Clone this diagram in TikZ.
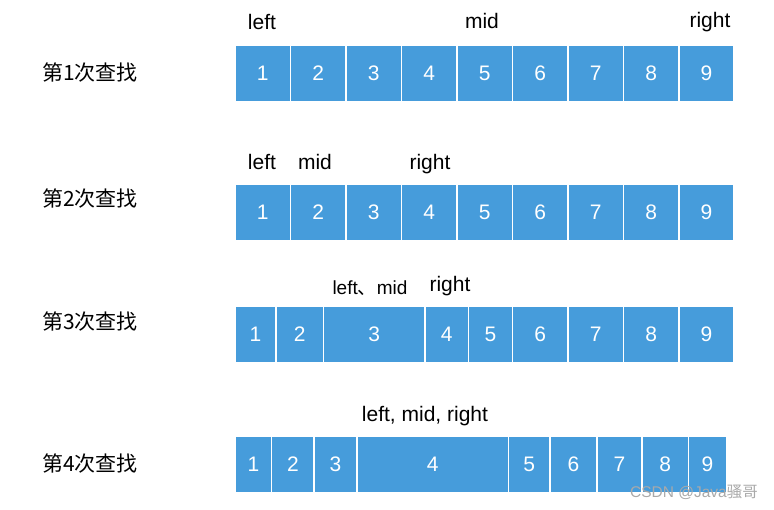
\documentclass[tikz,border=0pt]{standalone}
\usepackage{fontspec}
\setmainfont{Liberation Sans}
\newfontfamily\cjk{Noto Sans CJK SC}
\definecolor{cellblue}{HTML}{469CDB}
\definecolor{wm}{HTML}{A9A9A9}
\begin{document}
\begin{tikzpicture}[x=1pt,y=-1pt,
  cell/.style={fill=cellblue, draw=white, line width=1.2pt, text=white,
    font=\fontsize{21}{21}\selectfont, inner sep=0pt, outer sep=0pt,
    anchor=north west, minimum height=57pt},
  ptr/.style={font=\fontsize{21}{21}\selectfont, inner sep=0pt, anchor=base},
  ptrs/.style={font=\fontsize{19}{19}\selectfont, inner sep=0pt, anchor=base},
  rowlab/.style={font=\cjk\fontsize{21}{21}\selectfont, inner sep=0pt}]
\useasboundingbox (0,0) rectangle (774,510);
% row 1
\foreach \a/\b/\n in {235/290.5/1,290.5/346/2,346/401.5/3,401.5/457/4,457/512.5/5,512.5/568/6,568/623.5/7,623.5/679/8,679/734/9}
  \node[cell, minimum width={(\b-\a)*1pt}] (ra\n) at (\a,45) {\n};
% row 2
\foreach \a/\b/\n in {235/290.5/1,290.5/346/2,346/401.5/3,401.5/457/4,457/512.5/5,512.5/568/6,568/623.5/7,623.5/679/8,679/734/9}
  \node[cell, minimum width={(\b-\a)*1pt}] (rb\n) at (\a,184) {\n};
% row 3
\foreach \a/\b/\n in {235/276/1,276/323.3/2,323.3/425/3,425/468.3/4,468.3/512.5/5,512.5/568/6,568/623.5/7,623.5/679/8,679/734/9}
  \node[cell, minimum width={(\b-\a)*1pt}] (rc\n) at (\a,306) {\n};
% row 4
\foreach \a/\b/\n in {235/271.7/1,271.7/314/2,314/357/3,357/508.3/4,508.3/550/5,550/597/6,597/642/7,642/688.3/8,688.3/726.7/9}
  \node[cell, minimum width={(\b-\a)*1pt}] (rd\n) at (\a,436) {\n};
% row labels
\node[rowlab] (la) at (90,73) {第1次查找};
\node[rowlab] (lb) at (90,199) {第2次查找};
\node[rowlab] (lc) at (90,322) {第3次查找};
\node[rowlab] (ld) at (90,464) {第4次查找};
% pointer labels
\node[ptr] (p1l) at (262,30) {left};
\node[ptr] (p1m) at (482,29) {mid};
\node[ptr] (p1r) at (710,28) {right};
\node[ptr] (p2l) at (262,170) {left};
\node[ptr] (p2m) at (315,170) {mid};
\node[ptr] (p2r) at (430,170) {right};
\node[ptrs] (p3lm) at (370,295) {left{\cjk 、}mid};
\node[ptr] (p3r) at (450,292) {right};
\node[ptr] (p4) at (425,422) {left, mid, right};
% watermark
\node[font=\fontsize{15.5}{15.5}\selectfont, text=wm, inner sep=0pt, anchor=east] (wm) at (758,492) {CSDN @Java{\cjk 骚哥}};
\end{tikzpicture}
\end{document}
